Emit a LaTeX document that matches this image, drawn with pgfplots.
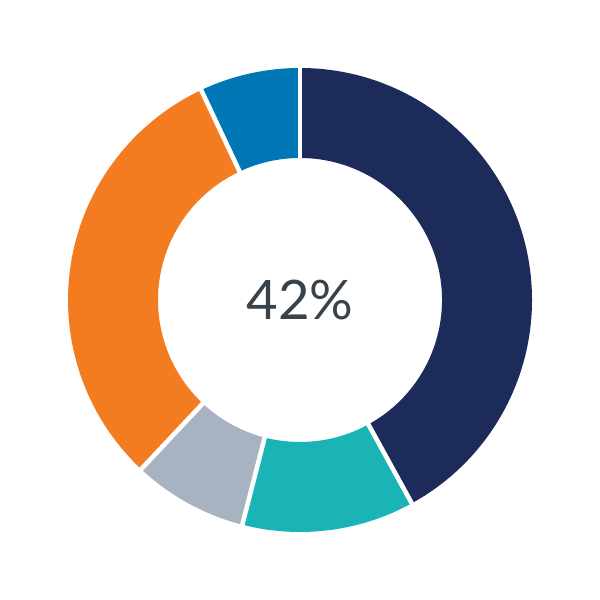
\documentclass[border=0pt]{standalone}
\usepackage{pgfplots}
\pgfplotsset{compat=1.18}
\usepackage{pgfplotstable}
\usepackage{fontspec}
\setmainfont{Lato}

\definecolor{cnavy}{HTML}{1C2B5A}
\definecolor{cteal}{HTML}{1AB3B6}
\definecolor{cgrey}{HTML}{A8B3C2}
\definecolor{corange}{HTML}{F37C20}
\definecolor{cblue}{HTML}{0077B5}
\definecolor{ctext}{HTML}{37424A}

% share of each segment, clockwise from 12 o'clock
\pgfplotstableread{
seg value colour
navy 42 cnavy
teal 12 cteal
grey 8 cgrey
orange 31 corange
blue 7 cblue
}\piedata

% radii in canvas units (1 px of the 600 px picture = 0.02cm)
\def\Rout{4.64cm}
\def\Rin{2.84cm}

% start/end angle of every segment, kept global for the axis
\xdef\cum{0}
\pgfplotstableforeachcolumnelement{value}\of\piedata\as\v{%
  \pgfmathsetmacro\sa{90-3.6*\cum}%
  \pgfmathsetmacro\ea{90-3.6*(\cum+\v)}%
  \expandafter\xdef\csname sa\pgfplotstablerow\endcsname{\sa}%
  \expandafter\xdef\csname ea\pgfplotstablerow\endcsname{\ea}%
  \pgfmathsetmacro\c{\cum+\v}%
  \xdef\cum{\c}%
}
\pgfplotstableforeachcolumnelement{colour}\of\piedata\as\col{%
  \expandafter\xdef\csname col\pgfplotstablerow\endcsname{\col}%
}

\begin{document}
\begin{tikzpicture}
\begin{axis}[
    scale only axis,
    width=12cm, height=12cm,
    xmin=-300, xmax=300, ymin=-300, ymax=300,
    axis line style={draw=none}, ticks=none,
    clip=false,
]
\pgfplotsinvokeforeach{0,...,4}{
  \fill[color=\csname col#1\endcsname]
    (axis cs:0,0) ++(\csname sa#1\endcsname:\Rout)
    arc[start angle=\csname sa#1\endcsname, end angle=\csname ea#1\endcsname, radius=\Rout]
    -- ++(\csname ea#1\endcsname:\Rin-\Rout)
    arc[start angle=\csname ea#1\endcsname, end angle=\csname sa#1\endcsname, radius=\Rin]
    -- cycle;
}
\pgfplotsinvokeforeach{0,...,4}{
  \draw[white, line width=2.6pt]
    (axis cs:0,0) ++(\csname sa#1\endcsname:\Rin-0.1cm) -- ++(\csname sa#1\endcsname:\Rout-\Rin+0.2cm);
}
\node[font=\fontsize{31}{36}\selectfont, text=ctext] at (axis cs:0,0) {42\%};
\end{axis}
\end{tikzpicture}
\end{document}
